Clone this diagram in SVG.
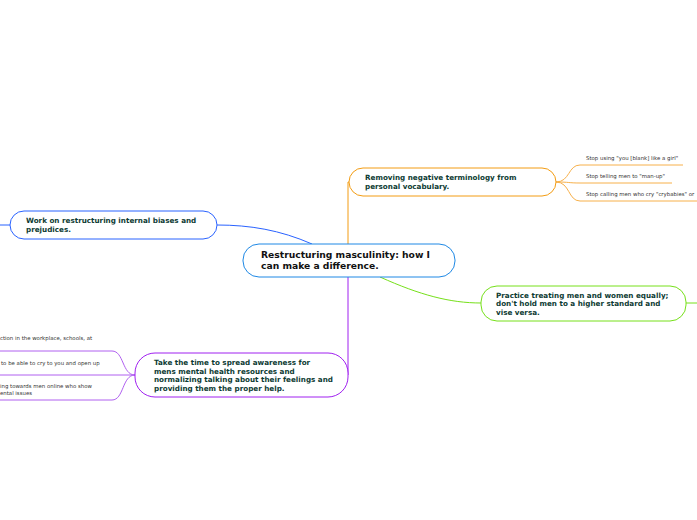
<svg xmlns="http://www.w3.org/2000/svg" width="697" height="520" viewBox="0 0 697 520">
<style>
.n{fill:#fff;stroke-width:1}
.t{font-family:Verdana,"DejaVu Sans",sans-serif;font-weight:bold;font-size:7.2px;fill:#0d3b33}
.c{font-family:Verdana,"DejaVu Sans",sans-serif;font-weight:bold;font-size:9.2px;fill:#111}
.s{font-family:Verdana,"DejaVu Sans",sans-serif;font-size:5.4px;fill:#333}
.l{fill:none;stroke-width:1}
</style>
<rect width="697" height="520" fill="#fff"/>
<g id="connectors">
<path class="l" stroke="#f39c12" d="M348,244 V182 Q348,182 349,182"/>
<path class="l" stroke="#a020f0" d="M348,277 V375"/>
<path class="l" stroke="#2962ff" d="M312,244 C280,230 250,225 217,225"/>
<path class="l" stroke="#76e01a" d="M380,277 C420,295 450,303 481,303"/>
<path class="l" stroke="#2962ff" d="M0,225 H10"/>
<path class="l" stroke="#76e01a" d="M686,303 H697"/>
<g stroke="#f7b04a" class="l">
<path d="M556,182 C570,182 568,165 580,165 H683"/>
<path d="M556,182 C570,182 568,183 580,183 H672"/>
<path d="M556,182 C570,182 568,201 580,201 H697"/>
</g>
<g stroke="#b060f0" class="l">
<path d="M135,375 C122,375 124,351 112,351 H0"/>
<path d="M135,375 H0"/>
<path d="M135,375 C122,375 124,400 112,400 H0"/>
</g>
</g>
<g id="central"><rect class="n" stroke="#1e88e5" x="243" y="244" width="212" height="33" rx="16"/>
<text class="c" x="261" y="258">Restructuring masculinity: how I</text><text class="c" x="261" y="269">can make a difference.</text></g>
<g id="orange"><rect class="n" stroke="#f39c12" x="349" y="168" width="207" height="28" rx="14"/>
<text class="t" x="365" y="180">Removing negative terminology from</text><text class="t" x="365" y="189">personal vocabulary.</text></g>
<g id="blue"><rect class="n" stroke="#2962ff" x="10" y="211" width="207" height="28" rx="14"/>
<text class="t" x="26" y="223">Work on restructuring internal biases and</text><text class="t" x="26" y="232">prejudices.</text></g>
<g id="green"><rect class="n" stroke="#76e01a" x="481" y="286" width="205" height="35" rx="16"/>
<text class="t" x="496" y="298">Practice treating men and women equally;</text><text class="t" x="496" y="306">don't hold men to a higher standard and</text><text class="t" x="496" y="315">vise versa.</text></g>
<g id="purple"><rect class="n" stroke="#a020f0" x="135" y="353" width="213" height="44" rx="20"/>
<text class="t" x="154" y="365">Take the time to spread awareness for</text><text class="t" x="154" y="374">mens mental health resources and</text><text class="t" x="154" y="382">normalizing talking about their feelings and</text><text class="t" x="154" y="391">providing them the proper help.</text></g>
<g id="o1"><text class="s" x="586" y="160">Stop using "you [blank] like a girl"</text></g>
<g id="o2"><text class="s" x="586" y="178">Stop telling men to "man-up"</text></g>
<g id="o3"><text class="s" x="586" y="196">Stop calling men who cry "crybabies" or</text></g>
<g id="p1"><text class="s" x="0" y="340">ction in the workplace, schools, at</text></g>
<g id="p2"><text class="s" x="1" y="365">to be able to cry to you and open up</text></g>
<g id="p3"><text class="s" x="0" y="388">ing towards men online who show</text><text class="s" x="0" y="395">ental issues</text></g>
</svg>
